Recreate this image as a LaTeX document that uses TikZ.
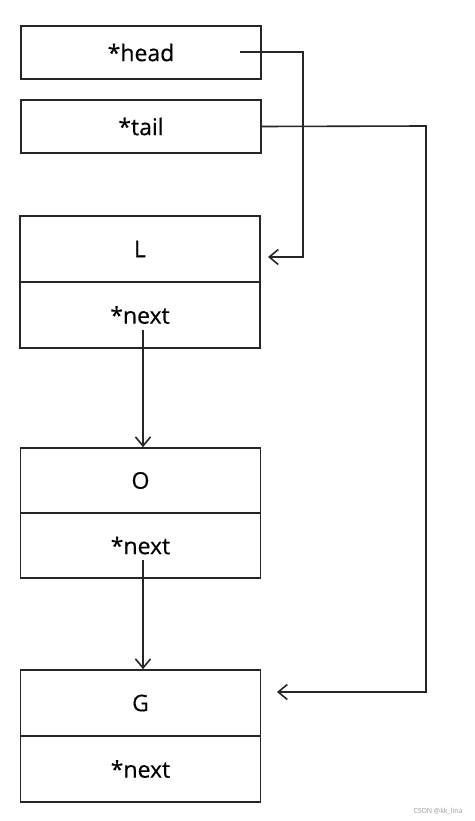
\documentclass[tikz,border=0pt]{standalone}
\usepackage{fontspec}
\setmainfont{Open Sans}
\newfontfamily\cellfont{Open Sans}[FakeBold=0.35]
\usetikzlibrary{arrows.meta}
\begin{document}
\begin{tikzpicture}[x=1pt,y=-1pt,
  cell/.style={draw=black!85, line width=1.7pt, rectangle, minimum width=240pt, inner sep=0pt, font=\cellfont\fontsize{23}{25}\selectfont, text=black},
  link/.style={draw=black!85, line width=1.6pt, -{Straight Barb[length=9pt,width=15pt,line width=1.6pt]}},
  wire/.style={draw=black!85, line width=1.6pt}]
\useasboundingbox (0,0) rectangle (474,821);
\fill[white] (0,0) rectangle (474,821);
% pointer boxes
\node[cell, minimum height=53pt] (head) at (141,52.5) {*head};
\node[cell, minimum height=53pt] (tail) at (141,126.5) {*tail};
% L
\node[cell, minimum height=66pt] (Ltop) at (140,249) {L};
\node[cell, minimum height=66pt] (Lbot) at (140,315) {*next};
% O
\node[cell, minimum height=65pt] (Otop) at (140.5,480.5) {O};
\node[cell, minimum height=65pt] (Obot) at (140.5,545.5) {*next};
% G
\node[cell, minimum height=66pt] (Gtop) at (140.5,703) {G};
\node[cell, minimum height=66pt] (Gbot) at (140.5,769) {*next};
% connector end points
\coordinate (hs) at (240,52);
\coordinate (he) at (268,257);
\coordinate (te) at (277,692);
\coordinate (ls) at (143,330);
\coordinate (os) at (143,560);
% head -> L
\draw[link] (hs) -- (303,52) |- (he);
% tail -> G
\draw[link] (tail.east) -- (426,126) |- (te);
% L.next -> O
\draw[link] (ls) -- (ls |- Otop.north);
% O.next -> G
\draw[link] (os) -- (os |- Gtop.north);
% watermark
\node[text=black!40, font=\fontsize{7}{8}\selectfont, anchor=east] (wm) at (466,811) {CSDN @kk\_lina};
\end{tikzpicture}
\end{document}
